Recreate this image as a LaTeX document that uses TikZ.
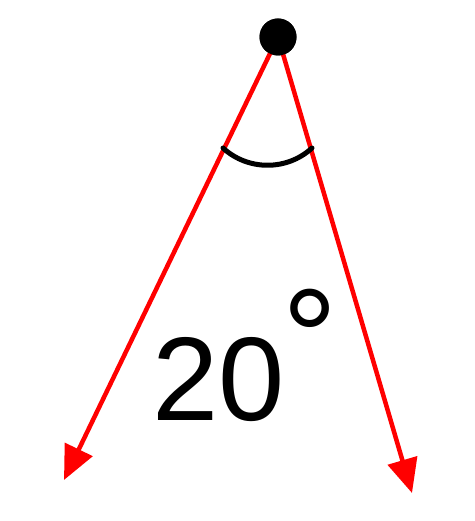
\documentclass[tikz,border=0pt]{standalone}
\usepackage{fontspec}
\setmainfont{Liberation Sans}
\usetikzlibrary{arrows.meta}
\tikzset{>={Triangle[length=34pt,width=30pt]}}
\tikzset{
  ray/.style={->,red,line width=4.5pt},
  anglemark/.style={black,line width=5pt,line cap=round},
}

\begin{document}
\begin{tikzpicture}[x=1pt,y=-1pt]
  \useasboundingbox (0,0) rectangle (474,521);
  % vertex
  \node[circle,fill=black,minimum size=37pt,inner sep=0pt] (apex) at (278,37) {};
  % arrow ends
  \coordinate (left) at (64,480);
  \coordinate (right) at (412,493);
  % rays
  \draw[ray] (apex.center) -- (left);
  \draw[ray] (apex.center) -- (right);
  \node[circle,fill=black,minimum size=37pt,inner sep=0pt] at (apex) {};
  % angle mark
  \draw[anglemark] (223,148) .. controls (248,171) and (287,171) .. (312,148);
  % label
  \node[anchor=base,inner sep=0pt,font=\fontsize{119}{119}\selectfont] (value) at (219,420) {20};
  \node[inner sep=0pt,font=\fontsize{138}{138}\selectfont] (degree) at (310,337) {°};
\end{tikzpicture}
\end{document}
